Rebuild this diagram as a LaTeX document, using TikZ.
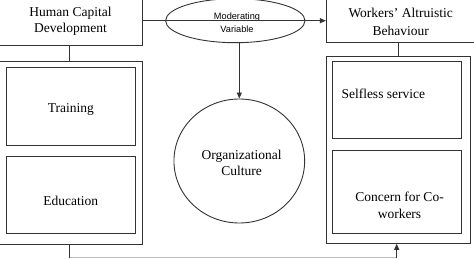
\documentclass[tikz,border=0pt]{standalone}
\usepackage{fontspec}
\setmainfont{Liberation Serif}
\newfontfamily\modfont{Liberation Sans}
\usetikzlibrary{arrows.meta,fit,shapes.geometric}
\tikzset{
  boxnode/.style={draw=black!80, line width=0.9pt, inner sep=0pt, rectangle},
  txt/.style={inner sep=0pt, align=center, font=\fontsize{13.5}{16}\selectfont},
  conn/.style={draw=black!80, line width=0.9pt},
  arr/.style={conn, -{Triangle[length=6pt,width=5pt]}},
}
\begin{document}
\begin{tikzpicture}[x=1pt,y=-1pt]
\useasboundingbox (0,0) rectangle (474,259);
\clip (0,0) rectangle (474,259);
% left column
\node[boxnode, fit={(-3.3,-3) (142.7,45.7)}] (hcd) {};
\node[txt] (hcdt) at (70.5,21) {Human Capital\\Development};
\node[boxnode, fit={(-3.3,61) (142.7,244)}] (hcdo) {};
\node[boxnode, fit={(6.3,67.7) (135.3,145.7)}] (tr) {};
\node[txt] (trt) at (70.8,109) {Training};
\node[boxnode, fit={(6.3,156.7) (135.3,233)}] (ed) {};
\node[txt] (edt) at (70.8,201) {Education};
% right column
\node[boxnode, fit={(326.3,-3) (480,42.3)}] (wab) {};
\node[txt, font=\fontsize{13.5}{18}\selectfont] (wabt) at (400.7,22) {Workers’ Altruistic\\Behaviour};
\node[boxnode, fit={(326.3,56.7) (470,243.3)}] (wabo) {};
\node[boxnode, fit={(332.7,61.3) (461.7,138.7)}] (ss) {};
\node[txt, anchor=west] (sst) at (341.3,94) {Selfless service};
\node[boxnode, fit={(332.7,150.7) (461.7,233.3)}] (cc) {};
\node[txt, font=\fontsize{13.5}{16.7}\selectfont] (cct) at (399.5,205) {Concern for Co-\\workers};
% middle
\node[draw=black!80, line width=0.9pt, ellipse, minimum width=139.4pt, minimum height=44pt, inner sep=0pt] (mv) at (235.3,20.7) {};
\node[inner sep=0pt, align=center, font=\modfont\fontsize{9.2}{12.6}\selectfont] (mvt) at (237,22.5) {Moderating\\Variable};
\node[draw=black!80, line width=0.9pt, ellipse, minimum width=130.7pt, minimum height=124pt, inner sep=0pt] (oc) at (239.3,161) {};
\node[txt, font=\fontsize{13.5}{16.3}\selectfont] (oct) at (241.5,163) {Organizational\\Culture};
% connectors
\draw[conn] (hcd.south) -- (hcdo.north);
\draw[conn] (wab.south -| wabo.north) -- (wabo.north);
\draw[arr] (hcd.east |- mv.center) -- (wab.west |- mv.center);
\draw[arr] (oc.north |- mv.south) -- (oc.north);
\coordinate (b1) at (69.7,257.6);
\coordinate (b2) at (396.7,257.6);
\draw[conn] (hcdo.south) -- (b1);
\draw[draw=black!25, line width=1.6pt] (b1) -- (b2);
\draw[arr] (b2) -- (b2 |- wabo.south);
\end{tikzpicture}
\end{document}
